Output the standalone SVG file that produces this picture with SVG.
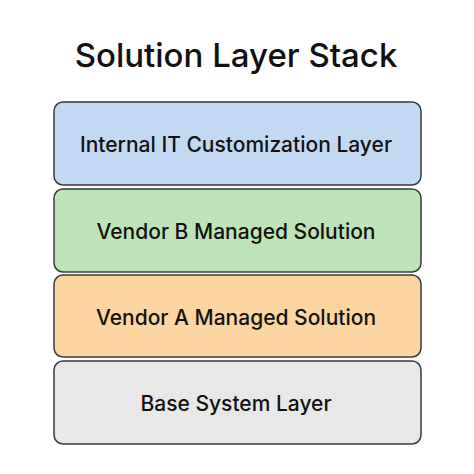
<svg xmlns="http://www.w3.org/2000/svg" width="474" height="474" viewBox="0 0 474 474">
<style>
.box{stroke:#3a3a3a;stroke-width:1.5}
.lbl{font-family:Inter,"Liberation Sans",sans-serif;font-size:21px;font-weight:500;fill:#111;text-anchor:middle;dominant-baseline:central}
.title{font-family:Inter,"Liberation Sans",sans-serif;font-size:33px;font-weight:500;fill:#111;text-anchor:middle}
</style>
<rect width="474" height="474" fill="#ffffff"/>
<text class="title" x="236" y="67">Solution Layer Stack</text>
<g id="layer-internal">
<rect class="box" x="54" y="102" width="367" height="83" rx="9" fill="#c3d8f3"/>
<text class="lbl" x="236" y="144">Internal IT Customization Layer</text>
</g>
<g id="layer-vendor-b">
<rect class="box" x="54" y="189" width="367" height="83" rx="9" fill="#bde4b6"/>
<text class="lbl" x="236" y="231">Vendor B Managed Solution</text>
</g>
<g id="layer-vendor-a">
<rect class="box" x="54" y="275" width="367" height="82" rx="9" fill="#fdd5a1"/>
<text class="lbl" x="236" y="317">Vendor A Managed Solution</text>
</g>
<g id="layer-base">
<rect class="box" x="54" y="361" width="367" height="83" rx="9" fill="#e8e8e8"/>
<text class="lbl" x="236" y="403">Base System Layer</text>
</g>
<g id="connectors"></g>
</svg>
